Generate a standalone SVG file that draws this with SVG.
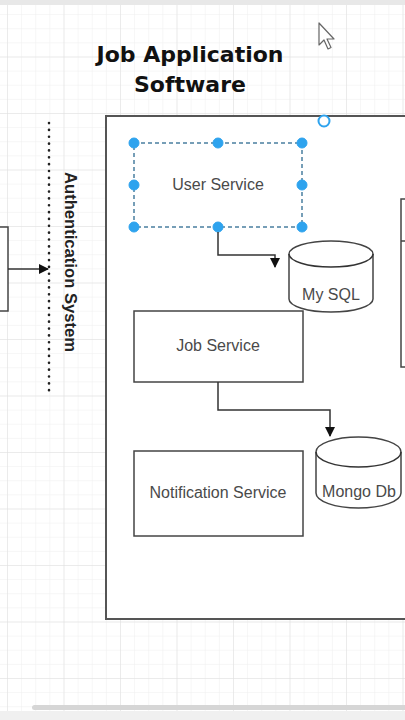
<svg xmlns="http://www.w3.org/2000/svg" width="405" height="720" viewBox="0 0 405 720">
  <defs>
    <pattern id="minor" x="7" y="0" width="14.125" height="14.125" patternUnits="userSpaceOnUse">
      <path d="M0,0 V14.125 M0,0 H14.125" fill="none" stroke="#eeeeee" stroke-width="1"/>
    </pattern>
    <pattern id="major" x="7" y="0" width="56.5" height="56.5" patternUnits="userSpaceOnUse">
      <path d="M0,0 V56.5 M0,0 H56.5" fill="none" stroke="#e0e0e0" stroke-width="1"/>
    </pattern>
    <marker id="arrow" viewBox="0 0 10 10" refX="9" refY="5" markerWidth="10" markerHeight="10" markerUnits="userSpaceOnUse" orient="auto">
      <path d="M0,0 L10,5 L0,10 Z" fill="#111"/>
    </marker>
    <style>
      .box { fill: #ffffff; stroke: #444444; stroke-width: 1.5; }
      .frame { fill: #ffffff; stroke: #555555; stroke-width: 2; }
      .label { font-family: "Liberation Sans", Arial, sans-serif; font-size: 16px; fill: #4a4a4a; text-anchor: middle; }
      .title { font-family: "DejaVu Sans", "Liberation Sans", sans-serif; font-weight: bold; font-size: 22px; fill: #111111; text-anchor: middle; }
      .conn { fill: none; stroke: #333333; stroke-width: 1.5; }
      .handle { fill: #2ea3ee; stroke: #2ea3ee; }
    </style>
  </defs>

  <!-- background -->
  <rect x="0" y="0" width="405" height="720" fill="#ffffff"/>
  <rect x="0" y="0" width="405" height="720" fill="url(#minor)"/>
  <rect x="0" y="0" width="405" height="720" fill="url(#major)"/>
  <rect x="0" y="0" width="405" height="5" fill="#e8e8e8"/>

  <!-- title -->
  <g id="title">
    <text class="title" x="190" y="62">Job Application</text>
    <text class="title" x="190" y="92">Software</text>
  </g>

  <!-- main container -->
  <g id="container">
    <rect class="frame" x="106" y="116" width="310" height="503"/>
  </g>

  <!-- partial right box -->
  <g id="right-box">
    <rect class="box" x="401" y="199" width="20" height="168"/>
    <line x1="401" y1="241" x2="405" y2="241" stroke="#444" stroke-width="1.5"/>
  </g>

  <!-- left partial box -->
  <g id="left-box">
    <rect class="box" x="-20" y="227" width="28" height="84"/>
  </g>

  <!-- authentication boundary -->
  <g id="auth-system">
    <line x1="49" y1="123" x2="49" y2="395" stroke="#222" stroke-width="2.6" stroke-linecap="round" stroke-dasharray="0.1 6.75"/>
    <text transform="translate(65,262) rotate(90)" font-family="Liberation Sans, Arial, sans-serif" font-weight="bold" font-size="16" fill="#222" text-anchor="middle" textLength="180" lengthAdjust="spacingAndGlyphs">Authentication System</text>
  </g>

  <!-- user service (selected) -->
  <g id="user-service">
    <rect x="134" y="143" width="168" height="84" fill="#ffffff" stroke="#4a7fa0" stroke-width="1.5" stroke-dasharray="4 3"/>
    <text class="label" x="218" y="190">User Service</text>
    <circle class="handle" cx="134" cy="143" r="5"/>
    <circle class="handle" cx="218" cy="143" r="5"/>
    <circle class="handle" cx="302" cy="143" r="5"/>
    <circle class="handle" cx="134" cy="185" r="5"/>
    <circle class="handle" cx="302" cy="185" r="5"/>
    <circle class="handle" cx="134" cy="227" r="5"/>
    <circle class="handle" cx="218" cy="227" r="5"/>
    <circle class="handle" cx="302" cy="227" r="5"/>
    <circle cx="324" cy="121" r="5.5" fill="#ffffff" stroke="#2ea3ee" stroke-width="2"/>
  </g>

  <!-- mysql -->
  <g id="mysql">
    <path class="box" d="M289,254 A42,13 0 0 1 373,254 V299 A42,13 0 0 1 289,299 Z"/>
    <path class="conn" d="M289,254 A42,13 0 0 0 373,254" stroke="#444"/>
    <text class="label" x="331" y="300">My SQL</text>
  </g>

  <!-- job service -->
  <g id="job-service">
    <rect class="box" x="134" y="311" width="169" height="71"/>
    <text class="label" x="218" y="351">Job Service</text>
  </g>

  <!-- mongo db -->
  <g id="mongodb">
    <path class="box" d="M316,452 A42.5,15 0 0 1 401,452 V493 A42.5,15 0 0 1 316,493 Z"/>
    <path class="conn" d="M316,452 A42.5,15 0 0 0 401,452" stroke="#444"/>
    <text class="label" x="359" y="497">Mongo Db</text>
  </g>

  <!-- notification service -->
  <g id="notification-service">
    <rect class="box" x="134" y="451" width="169" height="85"/>
    <text class="label" x="218" y="498">Notification Service</text>
  </g>

  <!-- connectors -->
  <g id="connectors">
    <path class="conn" d="M218,232 V255 H275 V267" marker-end="url(#arrow)"/>
    <path class="conn" d="M218,382 V410 H330 V436" marker-end="url(#arrow)"/>
    <path class="conn" d="M8,269 H48" marker-end="url(#arrow)"/>
  </g>

  <!-- cursor -->
  <g id="cursor">
    <path d="M319,23 V45 L324,40 L328,49 L331,47.5 L327,39 L334,39 Z" fill="#ffffff" stroke="#666" stroke-width="1.2" stroke-linejoin="round"/>
  </g>

  <!-- scrollbar -->
  <g id="scrollbar">
    <rect x="0" y="711" width="405" height="9" fill="#f0f0f0"/>
    <rect x="32" y="705" width="380" height="5" rx="2.5" fill="#d6d6d6"/>
  </g>
</svg>
